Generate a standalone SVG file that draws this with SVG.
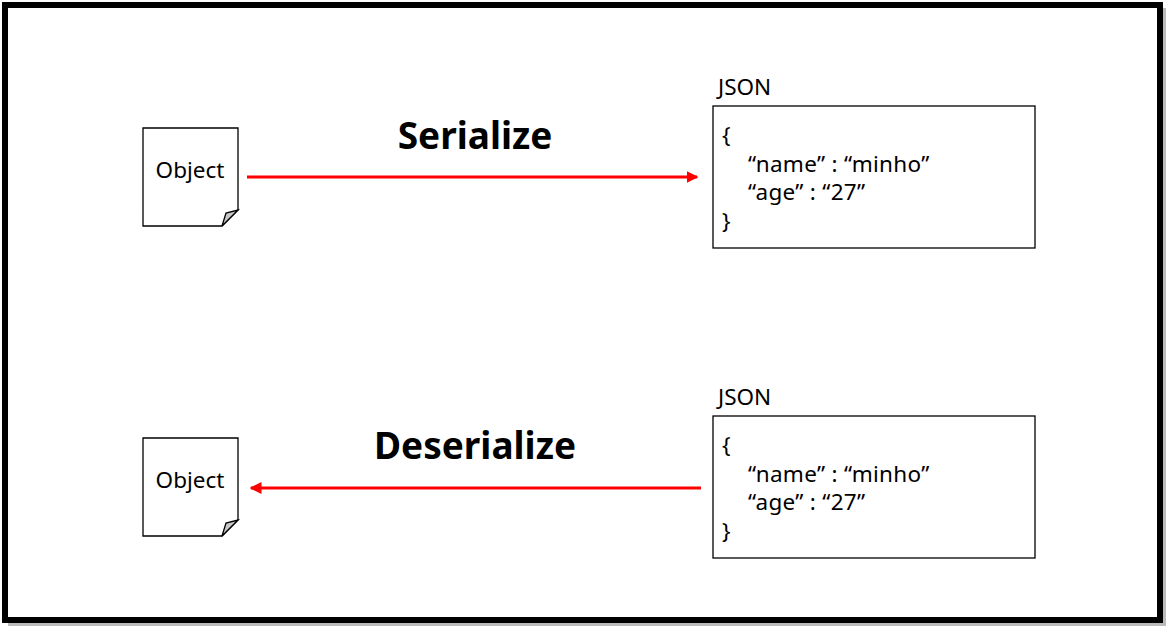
<svg xmlns="http://www.w3.org/2000/svg" width="1171" height="633" viewBox="0 0 1171 633">
<style>
.t{font-family:"Malgun Gothic","Noto Sans","Open Sans",sans-serif;fill:#000}
.b{font-size:22.5px}
.doc{fill:#fff;stroke:#000;stroke-width:1.3}
.fold{fill:#c8c8c8;stroke:#000;stroke-width:1.3}
.box{fill:#fff;stroke:#000;stroke-width:1.3}
.arr{stroke:#f00;stroke-width:3;fill:none}
</style>
<defs>
<marker id="ah" markerWidth="4" markerHeight="4" refX="3.5" refY="2" orient="auto" markerUnits="strokeWidth">
<path d="M0,0 L4,2 L0,4 Z" fill="#f00"/>
</marker>
</defs>
<rect x="0" y="0" width="1171" height="633" fill="#fff"/>
<rect x="8" y="8" width="1158" height="618" fill="#bbb"/>
<rect x="5" y="5" width="1155" height="615" fill="#fff" stroke="#000" stroke-width="6"/>
<g id="obj1">
<path class="doc" d="M143,128 H238 V210 L222,226 H143 Z"/>
<path class="fold" d="M238,210 L222,226 L226,213 Z"/>
<text class="t b" x="190" y="178" text-anchor="middle">Object</text>
</g>
<g id="obj2">
<path class="doc" d="M143,438 H238 V520 L222,536 H143 Z"/>
<path class="fold" d="M238,520 L222,536 L226,523 Z"/>
<text class="t b" x="190" y="488" text-anchor="middle">Object</text>
</g>
<g id="json1">
<text class="t b" x="718" y="95">JSON</text>
<rect class="box" x="713" y="106" width="322" height="142"/>
<text class="t b" letter-spacing="0.3"><tspan x="722" y="143">{</tspan><tspan x="748" y="172">“name” : “minho”</tspan><tspan x="748" y="200">“age” : “27”</tspan><tspan x="722" y="229">}</tspan></text>
</g>
<g id="json2">
<text class="t b" x="718" y="405">JSON</text>
<rect class="box" x="713" y="416" width="322" height="142"/>
<text class="t b" letter-spacing="0.3"><tspan x="722" y="453">{</tspan><tspan x="748" y="482">“name” : “minho”</tspan><tspan x="748" y="510">“age” : “27”</tspan><tspan x="722" y="539">}</tspan></text>
</g>
<g id="connectors">
<line class="arr" x1="247" y1="177" x2="697" y2="177" marker-end="url(#ah)"/>
<line class="arr" x1="701" y1="488" x2="251" y2="488" marker-end="url(#ah)"/>
<text class="t" x="475" y="149" font-size="37" font-weight="bold" text-anchor="middle">Serialize</text>
<text class="t" x="475" y="459" font-size="37" font-weight="bold" text-anchor="middle">Deserialize</text>
</g>
</svg>
